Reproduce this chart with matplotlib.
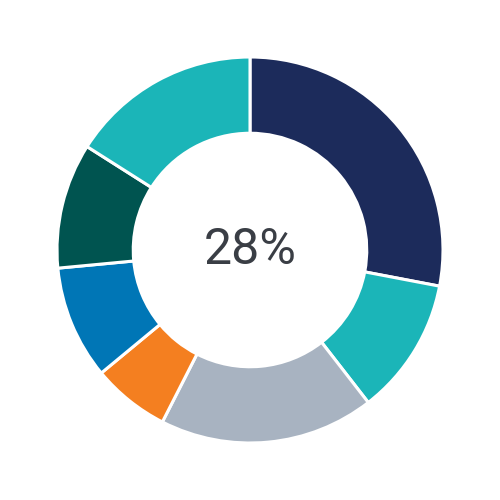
import matplotlib
matplotlib.use("Agg")
import matplotlib.pyplot as plt

values = [28, 11.5, 18, 6.5, 9.5, 10.5, 16]
colors = ["#1c2b5b", "#1bb5b8", "#a8b3c1", "#f47f20", "#0076b6", "#005450", "#1bb5b8"]
center_label = "28%"

fig = plt.figure(figsize=(5, 5), dpi=100)
ax = fig.add_axes([0, 0, 1, 1])
ax.pie(values, colors=colors, startangle=90, counterclock=False, radius=1,
       wedgeprops=dict(width=0.395, edgecolor="white", linewidth=2.2))
lim = 250 / 193
ax.set_xlim(-lim, lim)
ax.set_ylim(-lim, lim)
ax.set_aspect("equal")
ax.axis("off")
ax.text(0, 0.0, center_label, ha="center", va="center", fontsize=36,
        family="Roboto", color="#3a3e45")
fig.savefig("out.png", dpi=100, facecolor="white")
